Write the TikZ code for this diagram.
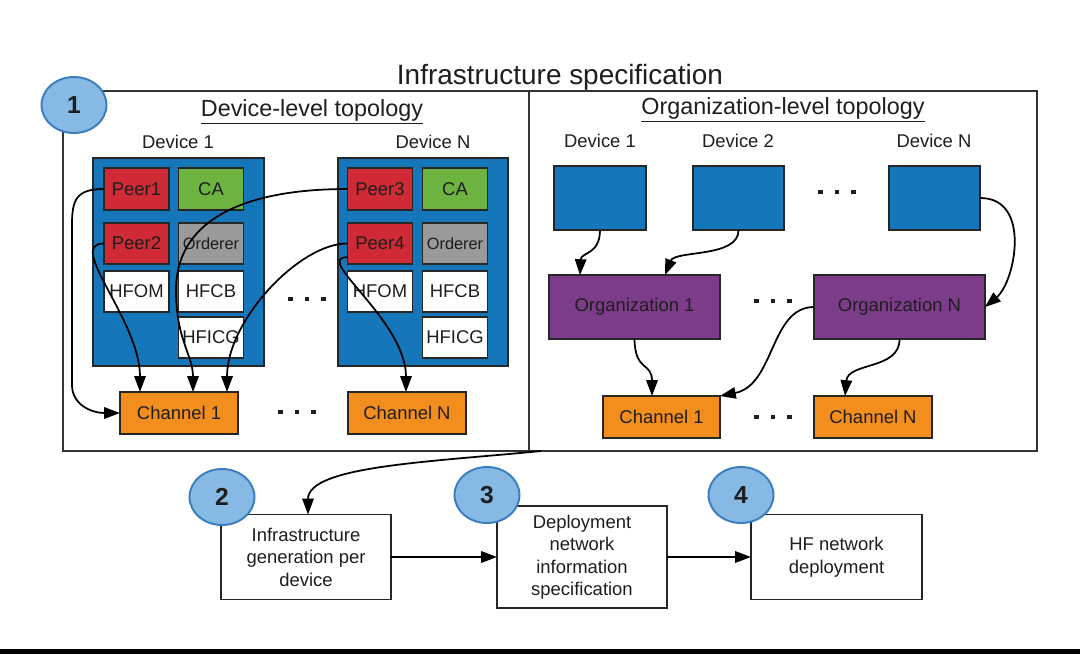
\documentclass[tikz,border=0pt]{standalone}
\usepackage{fontspec}
\setmainfont{Liberation Sans}
\usetikzlibrary{arrows.meta,calc,shapes.geometric}
\definecolor{devblue}{HTML}{1576BA}
\definecolor{peerred}{HTML}{CF2A36}
\definecolor{cagreen}{HTML}{6DB33F}
\definecolor{ordgray}{HTML}{9A9A9A}
\definecolor{chorange}{HTML}{F28E1E}
\definecolor{orgpurple}{HTML}{7D3C8A}
\definecolor{stepfill}{HTML}{86B9E3}
\definecolor{stepline}{HTML}{3B7DBF}
\definecolor{txt}{HTML}{1E1E1E}
\newcommand{\threedots}{\rule{2.8pt}{2.8pt}\hspace{6.6pt}\rule{2.8pt}{2.8pt}\hspace{6.6pt}\rule{2.8pt}{2.8pt}}
\begin{document}
\begin{tikzpicture}[x=0.02cm,y=-0.02cm,
  every node/.style={inner sep=0pt, outer sep=0pt, text=txt},
  nf/.style={font=\fontsize{10.5}{12.8}\selectfont},
  bline/.style={draw=black!85, line width=0.9pt},
  comp/.style={bline, nf, minimum width=1.3cm, minimum height=0.83cm},
  peer/.style={comp, fill=peerred},
  ca/.style={comp, fill=cagreen},
  ord/.style={comp, fill=ordgray, font=\fontsize{9.3}{11}\selectfont},
  hf/.style={comp, fill=white},
  devbox/.style={bline, fill=devblue, minimum width=3.42cm, minimum height=4.16cm},
  rdev/.style={bline, fill=devblue, minimum width=1.83cm, minimum height=1.28cm},
  org/.style={bline, fill=orgpurple, nf, minimum width=3.42cm, minimum height=1.28cm},
  chan/.style={bline, fill=chorange, nf, minimum width=2.36cm, minimum height=0.84cm},
  lbl/.style={nf},
  head/.style={font=\fontsize{13.3}{15}\selectfont},
  stepbox/.style={bline, fill=white, nf, align=center, minimum width=3.4cm, minimum height=1.7cm},
  stepnum/.style={ellipse, draw=stepline, line width=1.1pt, fill=stepfill, minimum width=1.3cm, minimum height=1.12cm, font=\fontsize{14}{16}\selectfont\bfseries},
  conn/.style={line width=1pt, draw=black, -{Triangle[length=9pt,width=6.5pt]}}
]
\useasboundingbox (0,0) rectangle (1080,654);
\fill[white] (0,0) rectangle (1080,654);
\fill[black] (0,649) rectangle (1080,654);

% outer frame
\node[font=\fontsize{15.9}{18}\selectfont] (title) at (560,77) {Infrastructure specification};
\draw[draw=black!80, line width=1.2pt] (63,91) rectangle (1037,451);
\draw[draw=black!80, line width=1.2pt] (529,91) -- (529,451);

% ---------- Device-level topology ----------
\node[head] (dlt) at (312,112) {\underline{Device-level topology}};
\node[lbl] (dl1) at (178,142) {Device 1};
\node[lbl] (dlN) at (433,142) {Device N};

\node[devbox] (dev1) at (178.5,262) {};
\node[devbox, minimum width=3.40cm] (devN) at (423,262) {};

\node[peer] (p1) at (136.5,189) {Peer1};
\node[ca] (ca1) at (211,189) {CA};
\node[peer] (p2) at (136.5,243.5) {Peer2};
\node[ord] (ord1) at (211,243.5) {Orderer};
\node[hf] (hfom1) at (136.5,291.5) {HFOM};
\node[hf] (hfcb1) at (211,291.5) {HFCB};
\node[hf] (hficg1) at (211,337.5) {HFICG};

\node[peer] (p3) at (380,189) {Peer3};
\node[ca] (ca2) at (455,189) {CA};
\node[peer] (p4) at (380,243.5) {Peer4};
\node[ord] (ord2) at (455,243.5) {Orderer};
\node[hf] (hfom2) at (380,291.5) {HFOM};
\node[hf] (hfcb2) at (455,291.5) {HFCB};
\node[hf] (hficg2) at (455,337.5) {HFICG};

\node (dd1) at (307,299) {\threedots};
\node[chan] (ch1) at (179,413) {Channel 1};
\node[chan] (chN) at (407,413) {Channel N};
\node (dd2) at (297,412) {\threedots};

\draw[conn] (p1.west) .. controls (76,189) and (72,200) .. (72,225) -- (72,385) .. controls (72,405) and (92,413) .. (ch1.west);
\draw[conn] (p2.west) .. controls (65,243) and (140,320) .. ($(ch1.north west)+(20,0)$);
\draw[conn] (p3.west) .. controls (235,189) and (176,225) .. (176,290) .. controls (176,340) and (193,355) .. ($(ch1.north west)+(73,0)$);
\draw[conn] (p4.west) .. controls (300,243) and (227,320) .. ($(ch1.north west)+(107,0)$);
\draw[conn] ($(p4.south west)+(0,-7)$) .. controls (312,257) and (406,320) .. ($(chN.north west)+(58,0)$);

% ---------- Organization-level topology ----------
\node[head] (olt) at (783,110) {\underline{Organization-level topology}};
\node[lbl] (rl1) at (600,141) {Device 1};
\node[lbl] (rl2) at (738,141) {Device 2};
\node[lbl] (rlN) at (934,141) {Device N};

\node[rdev] (rd1) at (600,198) {};
\node[rdev] (rd2) at (738.5,198) {};
\node[rdev] (rdN) at (934.5,198) {};
\node (dd3) at (837,192) {\threedots};

\node[org] (org1) at (634.5,307) {Organization 1};
\node[org] (orgN) at (899.5,307) {Organization N};
\node (dd4) at (773,301) {\threedots};

\node[chan, minimum width=2.34cm] (rch1) at (661.5,417) {Channel 1};
\node[chan] (rchN) at (873,417) {Channel N};
\node (dd5) at (773,417) {\threedots};

\draw[conn] (rd1.south) .. controls (600,255) and (581,252) .. ($(org1.north west)+(31,0)$);
\draw[conn] (rd2.south) .. controls (739,258) and (675,250) .. ($(org1.north west)+(116,0)$);
\draw[conn] (rdN.east) .. controls (1032,198) and (1015,282) .. (orgN.east);
\draw[conn] (org1.south) .. controls (635,372) and (652,362) .. ($(rch1.north west)+(49,0)$);
\draw[conn] (orgN.west) .. controls (770,307) and (775,385) .. (rch1.north east);
\draw[conn] (orgN.south) .. controls (900,370) and (848,362) .. ($(rchN.north west)+(31,0)$);

% ---------- bottom steps ----------
\node[stepbox] (b2) at (306,557) {Infrastructure\\generation per\\device};
\node[stepbox, minimum height=2.04cm] (b3) at (582,557) {Deployment\\network\\information\\specification};
\node[stepbox, minimum width=3.42cm] (b4) at (836.5,557) {HF network\\deployment};

\coordinate (src) at (541,451);
\draw[conn] (src) .. controls (430,462) and (308,466) .. ($(b2.north west)+(87,0)$);
\draw[conn] (b2.east) -- (b3.west);
\draw[conn] (b3.east) -- (b4.west);

% step numbers
\node[stepnum] (c1) at (74,105) {1};
\node[stepnum] (c2) at (222,497) {2};
\node[stepnum] (c3) at (487,495) {3};
\node[stepnum] (c4) at (741,495) {4};
\end{tikzpicture}
\end{document}
